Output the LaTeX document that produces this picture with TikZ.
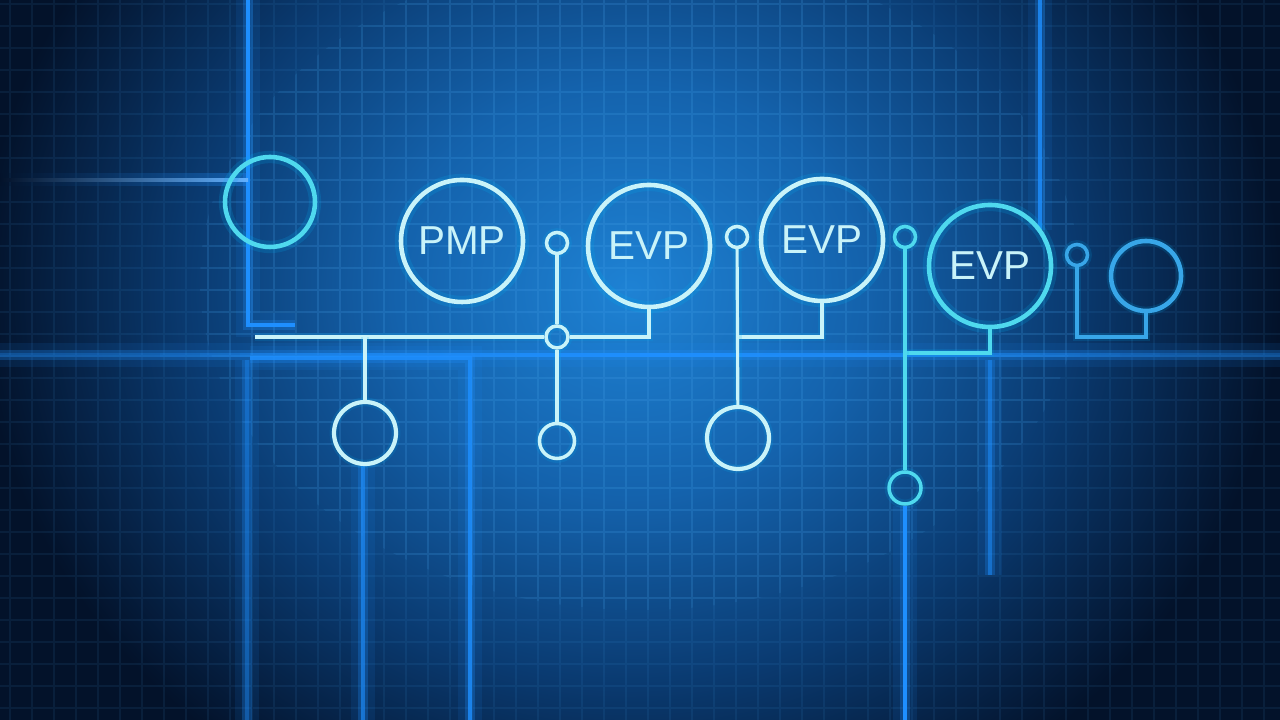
\documentclass[tikz,border=0pt]{standalone}
\usepackage{fontspec}
\setmainfont{Liberation Sans}
\definecolor{bgdark}{HTML}{03122A}
\definecolor{bgcore}{HTML}{1E82D4}
\definecolor{bgmid}{HTML}{1462AC}
\definecolor{bgouter}{HTML}{0A3A70}
\definecolor{ringwhite}{HTML}{C9F3F9}
\definecolor{ringcyan}{HTML}{4FD9EE}
\definecolor{ringblue}{HTML}{38A6E8}
\definecolor{glowblue}{HTML}{1E8FFF}
\definecolor{gridblue}{HTML}{49A8F0}
\pgfdeclareradialshading{bgglow}{\pgfpoint{0bp}{0bp}}{color(0bp)=(bgcore); color(9bp)=(bgmid); color(17bp)=(bgouter); color(25bp)=(bgdark); color(50bp)=(bgdark)}

\begin{document}
\begin{tikzpicture}
  [ring/.style={circle,draw=ringwhite,line width=1.3pt,inner sep=0pt,minimum size=1.22cm,
     text=ringwhite,font=\fontsize{11.5}{12}\selectfont,
     preaction={draw=cyan,line width=3.5pt,opacity=.18}},
   dot/.style={circle,draw=ringwhite,line width=1pt,inner sep=0pt,minimum size=0.21cm,
     preaction={draw=cyan,line width=2.5pt,opacity=.15}},
   wire/.style={draw=ringwhite,line width=0.9pt,preaction={draw=cyan,line width=2.5pt,opacity=.15}},
   glow/.style={draw=glowblue,line width=0.9pt,
     preaction={draw=glowblue,line width=7pt,opacity=.10},
     preaction={draw=glowblue,line width=2.8pt,opacity=.25}}]
  \useasboundingbox (0,0) rectangle (12.8,7.2);
  \fill[bgdark] (0,0) rectangle (12.8,7.2);
  \shade[shading=bgglow] (6.3,4.3) ellipse (6.5 and 5.8);

  \begin{scope}
    \clip (0,0) rectangle (12.8,7.2);
    \draw[gridblue,opacity=.09,line width=0.5pt,shift={(0.10,0.12)}] (-0.22,-0.22) grid[step=0.22] (12.9,7.3);
    \clip (6.4,4.4) ellipse (4.4 and 3.3);
    \draw[gridblue,opacity=.12,line width=0.5pt,shift={(0.10,0.12)}] (-0.22,-0.22) grid[step=0.22] (12.9,7.3);
  \end{scope}

  \draw[glow] (2.48,7.2) -- (2.48,3.95) -- (2.95,3.95);
  \draw[glow,opacity=.35] (2.47,3.6) -- (2.47,0);
  \shade[left color=bgdark,right color=glowblue,opacity=.35] (0,5.34) rectangle (2.48,5.46);
  \shade[left color=bgdark,right color=glowblue!70!white] (0,5.385) rectangle (2.48,5.415);
  \foreach \i in {0,...,31}{
    \pgfmathsetmacro\op{max(0.25,1-abs(\i*0.4+0.2-6.6)/7)}
    \draw[glow,line width=1.1pt,opacity=\op] (\i*0.4,3.65) -- ({\i*0.4+0.4},3.65);
  }
  \draw[glow,opacity=.8] (2.5,3.62) -- (4.70,3.62) -- (4.70,0);
  \draw[glow,opacity=.8] (10.40,7.2) -- (10.40,4.9);
  \draw[glow,opacity=.6] (3.63,2.55) -- (3.63,0);
  \draw[glow,opacity=.5] (9.90,3.6) -- (9.90,1.45);

  \node[ring,draw=ringcyan,minimum size=0.9cm] (start) at (2.70,5.18) {};
  \node[ring] (pmp) at (4.62,4.79) {PMP};
  \node[ring] (evp1) at (6.49,4.74) {EVP};
  \node[ring] (evp2) at (8.22,4.80) {EVP};
  \node[ring,draw=ringcyan] (evp3) at (9.90,4.54) {EVP};

  \node[dot] (tap1) at (5.57,4.77) {};
  \node[dot,minimum size=0.22cm] (hub) at (5.57,3.83) {};
  \node[dot,minimum size=0.35cm] (leaf1) at (5.57,2.79) {};
  \node[dot,line width=1.2pt,minimum size=0.62cm] (leaf0) at (3.65,2.87) {};
  \node[dot] (tap2) at (7.37,4.83) {};
  \node[dot,line width=1.2pt,minimum size=0.62cm] (leaf2) at (7.38,2.82) {};
  \node[dot,draw=ringcyan] (tap3) at (9.05,4.83) {};
  \node[dot,draw=ringcyan,minimum size=0.32cm] (leaf3) at (9.05,2.32) {};
  \node[dot,draw=ringblue] (tap4) at (10.77,4.65) {};
  \node[dot,draw=ringblue,line width=1.3pt,minimum size=0.70cm] (tail) at (11.46,4.44) {};
  \coordinate (lineL) at (2.55,3.83);

  \draw[glow] (leaf3) -- (leaf3 |- 0,0);

  \draw[wire] (lineL) -- (hub);
  \draw[wire] (hub) -| (evp1);
  \draw[wire] (leaf0) -- (leaf0 |- hub);
  \draw[wire] (evp2) |- (tap2 |- hub);
  \draw[wire,draw=ringcyan] (evp3) |- (tap3 |- 0,3.67);
  \draw[wire,draw=ringblue] (tap4) |- (tail |- hub) -- (tail);
  \foreach \from/\to in {tap1/hub,hub/leaf1,tap2/leaf2}
    \draw[wire] (\from) -- (\to);
  \draw[wire,draw=ringcyan] (tap3) -- (leaf3);
\end{tikzpicture}
\end{document}
